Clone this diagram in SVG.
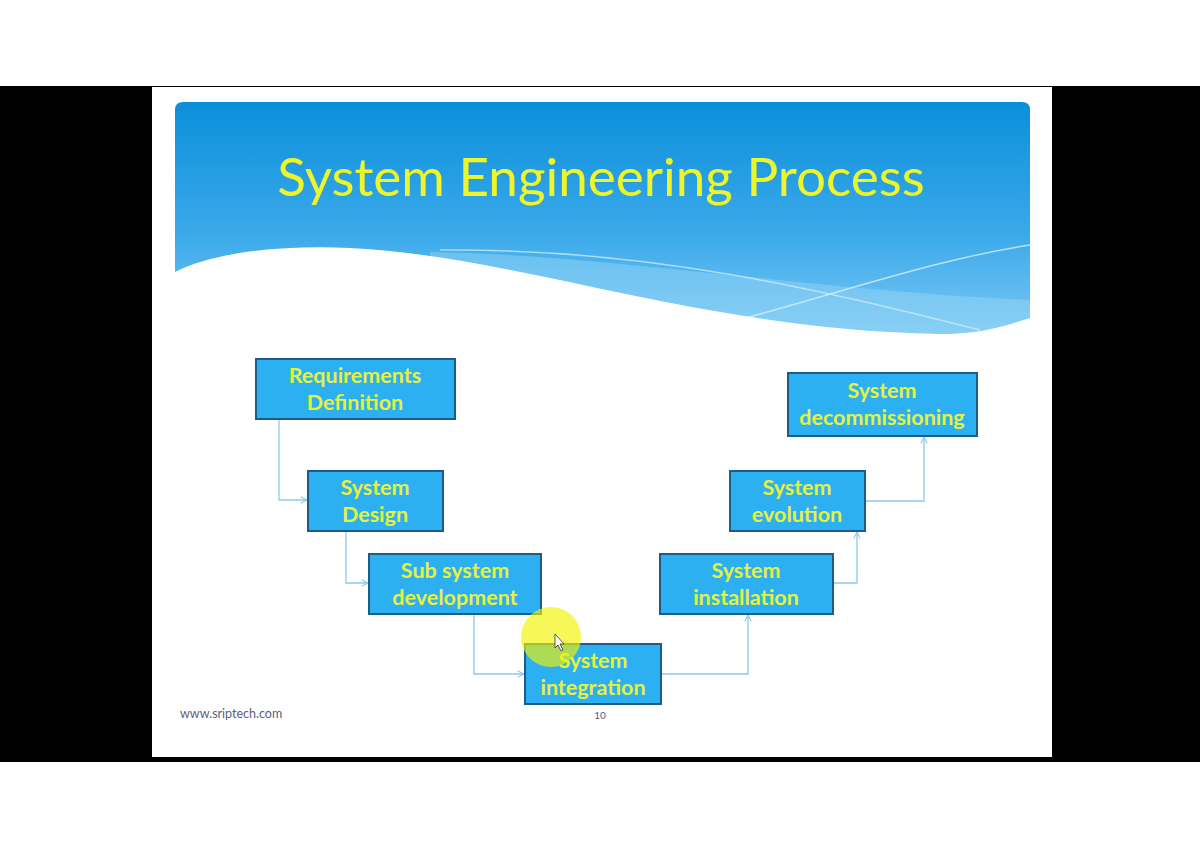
<svg xmlns="http://www.w3.org/2000/svg" width="1200" height="848" viewBox="0 0 1200 848">
<defs>
<linearGradient id="hdr" x1="0" y1="0" x2="0" y2="1">
<stop offset="0" stop-color="#0b8fda"/>
<stop offset="0.55" stop-color="#3aa9ea"/>
<stop offset="1" stop-color="#7fcaf5"/>
</linearGradient>
<marker id="ah" viewBox="0 0 10 10" refX="9" refY="5" markerWidth="8" markerHeight="8" markerUnits="userSpaceOnUse" orient="auto">
<path d="M1,1 L9,5 L1,9" fill="none" stroke="#8cc8ea" stroke-width="1.3"/>
</marker>
<style>
.box{fill:#2cb0f2;stroke:#1d5c86;stroke-width:2}
.lbl{font-family:Lato,"Open Sans",sans-serif;font-weight:bold;font-size:21.5px;fill:#e6f23c;text-anchor:middle}
.con{fill:none;stroke:#8cc8ea;stroke-width:1.3;marker-end:url(#ah)}
</style>
</defs>
<rect x="0" y="0" width="1200" height="848" fill="#ffffff"/>
<rect x="0" y="86" width="1200" height="676" fill="#000000"/>
<rect x="152" y="87" width="900" height="670" fill="#ffffff"/>
<g id="header">
<path d="M183,102 H1022 Q1030,102 1030,110 V340 H175 V110 Q175,102 183,102 Z" fill="url(#hdr)"/>
<path d="M430,252 C620,255 800,290 1030,300 L1030,340 L430,340 Z" fill="#9ad6f7" opacity="0.45"/>
<path d="M700,330 C820,300 930,260 1030,245" fill="none" stroke="#d4eefc" stroke-width="1.5" opacity="0.8"/>
<path d="M440,250 C650,248 820,290 980,330" fill="none" stroke="#d4eefc" stroke-width="1.5" opacity="0.7"/>
<path d="M175,272 C215,252 280,245 350,248 C520,256 700,330 940,334 C990,334 1015,322 1030,318 L1030,345 L175,345 Z" fill="#ffffff"/>
<text x="601" y="196" font-family="Lato,'Open Sans',sans-serif" font-size="53" fill="#eef52a" text-anchor="middle">System Engineering Process</text>
</g>
<g id="connectors">
<path class="con" d="M279,419 V500 H307"/>
<path class="con" d="M346,531 V583 H368"/>
<path class="con" d="M474,614 V674 H524"/>
<path class="con" d="M661,674 H748 V615"/>
<path class="con" d="M833,583 H857 V532"/>
<path class="con" d="M865,501 H924 V437"/>
</g>
<g id="n1"><rect class="box" x="256" y="359" width="199" height="60"/><text class="lbl" x="355" y="383">Requirements</text><text class="lbl" x="355" y="410">Definition</text></g>
<g id="n2"><rect class="box" x="308" y="471" width="135" height="60"/><text class="lbl" x="375" y="495">System</text><text class="lbl" x="375" y="522">Design</text></g>
<g id="n3"><rect class="box" x="369" y="554" width="172" height="60"/><text class="lbl" x="455" y="578">Sub system</text><text class="lbl" x="455" y="605">development</text></g>
<g id="n4"><rect class="box" x="525" y="644" width="136" height="60"/><text class="lbl" x="593" y="668">System</text><text class="lbl" x="593" y="695">integration</text></g>
<g id="n5"><rect class="box" x="660" y="554" width="173" height="60"/><text class="lbl" x="746" y="578">System</text><text class="lbl" x="746" y="605">installation</text></g>
<g id="n6"><rect class="box" x="730" y="471" width="135" height="60"/><text class="lbl" x="797" y="495">System</text><text class="lbl" x="797" y="522">evolution</text></g>
<g id="n7"><rect class="box" x="788" y="373" width="189" height="63"/><text class="lbl" x="882" y="398">System</text><text class="lbl" x="882" y="425">decommissioning</text></g>
<circle cx="551" cy="637" r="30" fill="#f2f200" opacity="0.65"/>
<path d="M555,634 L555,648 L558,645 L561,651 L563,650 L560,644 L564,644 Z" fill="#ffffff" stroke="#333333" stroke-width="0.8"/>
<text x="180" y="718" font-family="Lato,'Open Sans',sans-serif" font-size="12.5" fill="#5c5c7e">www.sriptech.com</text>
<text x="600" y="719" font-family="Lato,'Open Sans',sans-serif" font-size="10" fill="#5c5c7e" text-anchor="middle">10</text>
</svg>
